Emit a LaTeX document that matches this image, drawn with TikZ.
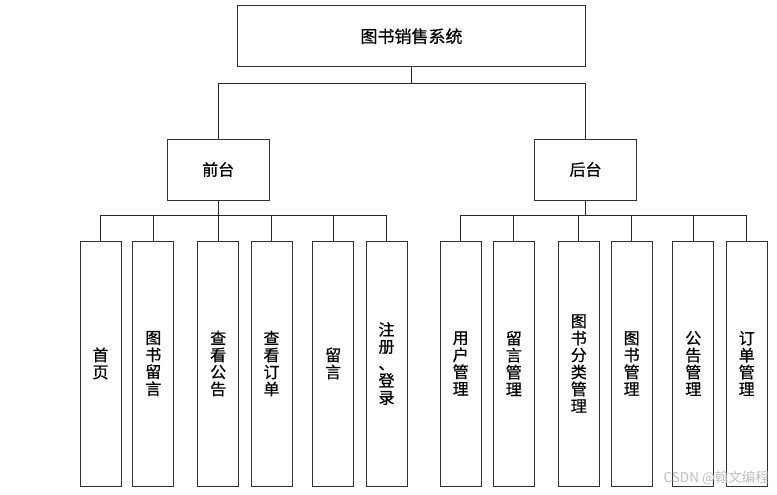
\documentclass[tikz,border=0pt]{standalone}
\usepackage{fontspec}
\setmainfont{Noto Sans CJK SC}
\newfontfamily\cjk{Noto Sans CJK SC}[FakeBold=0.7]
\newfontfamily\wmfont{Noto Sans CJK SC}
\begin{document}
\begin{tikzpicture}[x=1pt,y=-1pt,
  box/.style={draw=black!80,line width=0.9pt,fill=white,inner sep=0pt,align=center},
  topbox/.style={box,minimum width=347.6pt,minimum height=60.7pt,font=\cjk\fontsize{17}{19}\selectfont},
  midbox/.style={box,minimum width=102.5pt,minimum height=61pt,font=\cjk\fontsize{16}{18}\selectfont},
  leafbox/.style={box,minimum width=41pt,minimum height=245pt,font=\cjk\fontsize{16}{17}\selectfont},
  link/.style={draw=black!85,line width=0.9pt}]
\useasboundingbox (0,0) rectangle (777,495);
\fill[white] (0,0) rectangle (777,495);

\node[topbox] (top) at (411.5,36.3) {图书销售系统};
\node[midbox] (front) at (218.2,169.5) {前台};
\node[midbox] (back) at (585.6,169.5) {后台};

\node[leafbox] (l1) at (100.5,363.5) {首\\页};
\node[leafbox] (l2) at (153.3,363.5) {图\\书\\留\\言};
\node[leafbox] (l3) at (218.2,363.5) {查\\看\\公\\告};
\node[leafbox] (l4) at (271.5,363.5) {查\\看\\订\\单};
\node[leafbox] (l5) at (333.2,363.5) {留\\言};
\node[leafbox] (l6) at (386.5,363.5) {注\\册\\、\\登\\录};

\node[leafbox] (r1) at (460.7,363.5) {用\\户\\管\\理};
\node[leafbox] (r2) at (513.8,363.5) {留\\言\\管\\理};
\node[leafbox] (r3) at (578.8,363.5) {图\\书\\分\\类\\管\\理};
\node[leafbox] (r4) at (631.7,363.5) {图\\书\\管\\理};
\node[leafbox] (r5) at (693.3,363.5) {公\\告\\管\\理};
\node[leafbox] (r6) at (746.7,363.5) {订\\单\\管\\理};

\draw[link] (top.south) -- +(0,16.2) -| (front.north);
\draw[link] (top.south) -- +(0,16.2) -| (back.north);
\foreach \n in {l1,l2,l3,l4,l5,l6}{
  \draw[link] (front.south) -- +(0,15) -| (\n.north);
}
\foreach \n in {r1,r2,r3,r4,r5,r6}{
  \draw[link] (back.south) -- +(0,15) -| (\n.north);
}

\node[text=black!25,font=\wmfont\fontsize{13.5}{15}\selectfont,inner sep=0pt,anchor=east] (wm) at (769,478) {CSDN @翰文编程};
\end{tikzpicture}
\end{document}
